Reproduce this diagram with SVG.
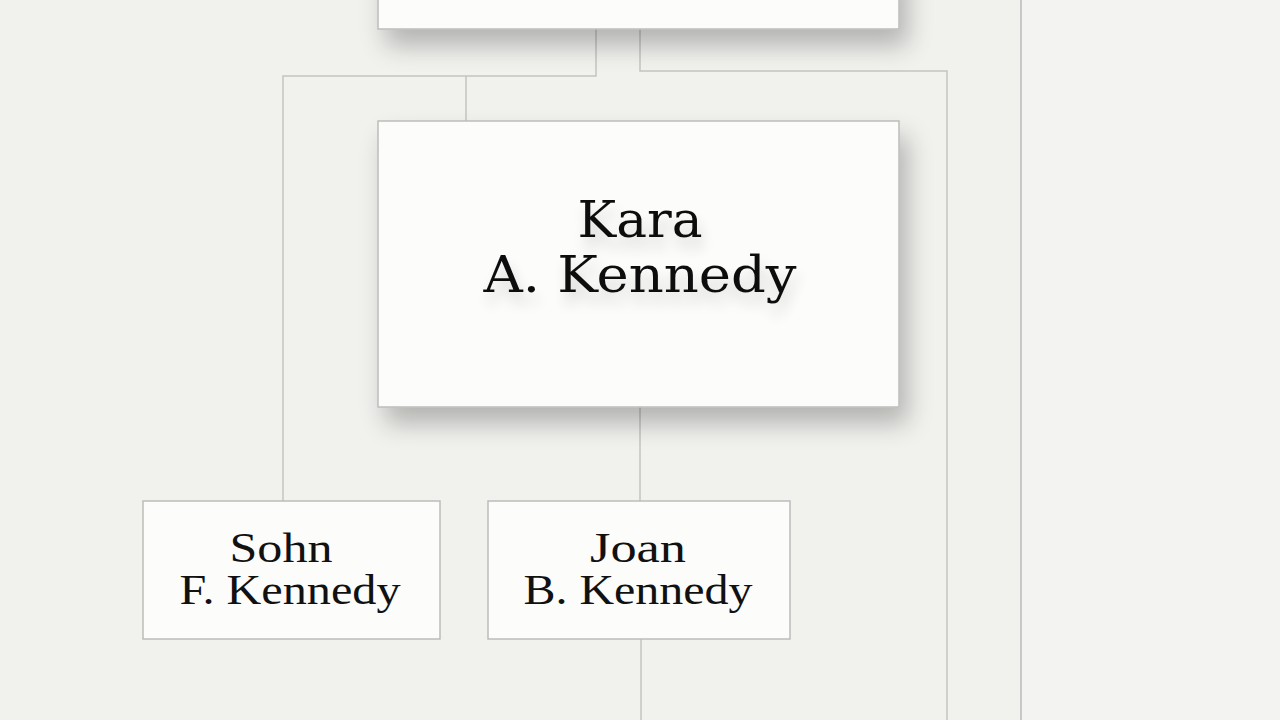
<svg xmlns="http://www.w3.org/2000/svg" width="1280" height="720" viewBox="0 0 1280 720">
  <defs>
    <filter id="boxShadow" x="-15%" y="-15%" width="140%" height="160%">
      <feGaussianBlur in="SourceAlpha" stdDeviation="13"/>
      <feOffset dx="8" dy="16" result="b"/>
      <feComponentTransfer><feFuncA type="linear" slope="0.26"/></feComponentTransfer>
      <feMerge><feMergeNode/><feMergeNode in="SourceGraphic"/></feMerge>
    </filter>
    <filter id="topShadow" x="-15%" y="-50%" width="140%" height="300%">
      <feGaussianBlur in="SourceAlpha" stdDeviation="13"/>
      <feOffset dx="8" dy="16" result="b"/>
      <feComponentTransfer><feFuncA type="linear" slope="0.26"/></feComponentTransfer>
      <feMerge><feMergeNode/><feMergeNode in="SourceGraphic"/></feMerge>
    </filter>
    <filter id="textShadow" x="-10%" y="-20%" width="120%" height="170%">
      <feGaussianBlur in="SourceAlpha" stdDeviation="7"/>
      <feOffset dx="3" dy="11" result="b"/>
      <feComponentTransfer><feFuncA type="linear" slope="0.16"/></feComponentTransfer>
      <feMerge><feMergeNode/><feMergeNode in="SourceGraphic"/></feMerge>
    </filter>
    <style>
      .bg { fill: #f1f1ee; }
      .panel { fill: #f3f3f1; }
      .box { fill: #fcfcfa; stroke: #bcbcba; stroke-width: 1.5; }
      .conn { fill: none; stroke: #c3c3c1; stroke-width: 1.5; }
      .divider { stroke: #c8c8c6; stroke-width: 2; }
      .big { font-family: "DejaVu Serif", "Liberation Serif", serif; font-size: 50px; fill: #111; text-anchor: middle; }
      .small { font-family: "Liberation Serif", "Times New Roman", serif; font-size: 42px; fill: #111; text-anchor: middle; }
    </style>
  </defs>

  <rect class="bg" x="0" y="0" width="1280" height="720"/>
  <rect class="panel" x="1021" y="0" width="259" height="720"/>
  <line class="divider" x1="1021" y1="0" x2="1021" y2="720"/>

  <g id="connectors">
    <polyline class="conn" points="596,29 596,76 283,76 283,501"/>
    <line class="conn" x1="466" y1="76" x2="466" y2="121"/>
    <polyline class="conn" points="640,29 640,71 947,71 947,720"/>
    <line class="conn" x1="640" y1="407" x2="640" y2="501"/>
    <line class="conn" x1="641" y1="639" x2="641" y2="720"/>
  </g>

  <g id="node-top">
    <rect class="box" x="378" y="-40" width="521" height="69" filter="url(#topShadow)"/>
  </g>

  <g id="node-kara">
    <rect class="box" x="378" y="121" width="521" height="286" filter="url(#boxShadow)"/>
    <g filter="url(#textShadow)">
      <text class="big" x="640" y="237" textLength="125" lengthAdjust="spacingAndGlyphs">Kara</text>
      <text class="big" x="640" y="292" textLength="313" lengthAdjust="spacingAndGlyphs">A. Kennedy</text>
    </g>
  </g>

  <g id="node-sohn">
    <rect class="box" x="143" y="501" width="297" height="138"/>
    <text class="small" x="281" y="562" textLength="103" lengthAdjust="spacingAndGlyphs">Sohn</text>
    <text class="small" x="290" y="604" textLength="221" lengthAdjust="spacingAndGlyphs">F. Kennedy</text>
  </g>

  <g id="node-joan">
    <rect class="box" x="488" y="501" width="302" height="138"/>
    <text class="small" x="638" y="562" textLength="96" lengthAdjust="spacingAndGlyphs">Joan</text>
    <text class="small" x="638" y="604" textLength="229" lengthAdjust="spacingAndGlyphs">B. Kennedy</text>
  </g>
</svg>
